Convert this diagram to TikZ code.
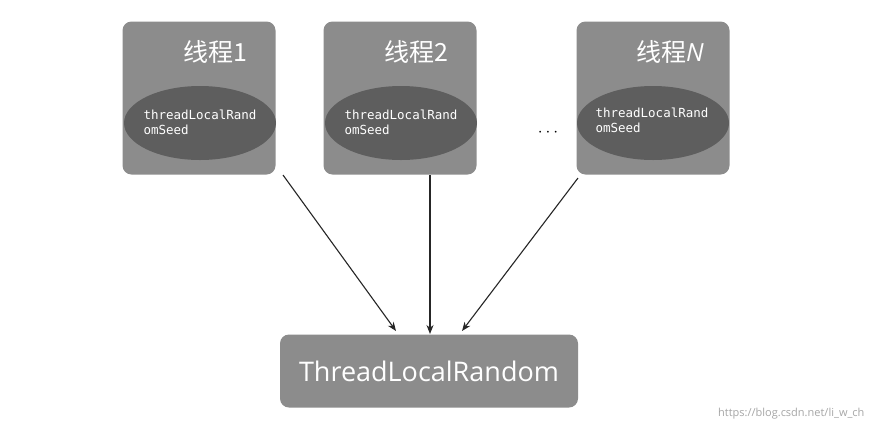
\documentclass[tikz,border=0pt]{standalone}
\usepackage{fontspec}
\setmainfont{Open Sans}
\newfontfamily\cjk{Noto Sans CJK SC}
\newfontfamily\monof{DejaVu Sans Mono}
\usetikzlibrary{shapes.geometric,arrows.meta}
\definecolor{boxg}{HTML}{8C8C8C}
\definecolor{ellg}{HTML}{5E5E5E}
\tikzset{
  thbox/.style={fill=boxg,rounded corners=9pt,minimum width=153pt,minimum height=153pt,draw=none},
  ell/.style={ellipse,fill=ellg,minimum width=152pt,minimum height=74pt,draw=none},
  elltxt/.style={text=white,font=\monof\fontsize{12.5pt}{15pt}\selectfont,align=left,anchor=west},
  ttl/.style={text=white,font=\cjk\fontsize{25pt}{28pt}\selectfont},
  arr/.style={-{Stealth[length=9pt,width=7pt]},line width=1.1pt,draw=black!85}
}
\begin{document}
\begin{tikzpicture}[x=1pt,y=-1pt]
\useasboundingbox[fill=white] (0,0) rectangle (875,432);
\node[thbox] (b1) at (199,98) {};
\node[thbox] (b2) at (400,98) {};
\node[thbox] (b3) at (653,98) {};
\node[ell] (e1) at (200,123) {};
\node[ell] (e2) at (401,123) {};
\node[ell] (e3) at (653,123) {};
\node[ttl] (t1) at (215,52) {线程1};
\node[ttl] (t2) at (416,52) {线程2};
\node[ttl] (t3) at (670,52) {线程{\fontspec{Open Sans}\itshape N}};
\node[elltxt] (s1) at (140,122) {threadLocalRand\\omSeed};
\node[elltxt] (s2) at (341,122) {threadLocalRand\\omSeed};
\node[elltxt] (s3) at (592,120) {threadLocalRand\\omSeed};
\node (dots) at (548,133) {\fontsize{18pt}{20pt}\selectfont$\cdots$};
\node[fill=boxg,rounded corners=9pt,minimum width=298pt,minimum height=73pt,text=white,font=\fontsize{27pt}{30pt}\selectfont] (tl) at (429,371) {ThreadLocalRandom};
\coordinate (a1) at (283,175);
\coordinate (a2) at (430,175);
\coordinate (a3) at (578,178);
\draw[arr] (a1) -- (396,331);
\draw[arr] (a2) -- (430,334);
\draw[arr] (a3) -- (462,331);
\node[anchor=east,text=black!35,font=\fontsize{11pt}{13pt}\selectfont] (wm) at (868,414) {https://blog.csdn.net/li\_w\_ch};
\end{tikzpicture}
\end{document}
